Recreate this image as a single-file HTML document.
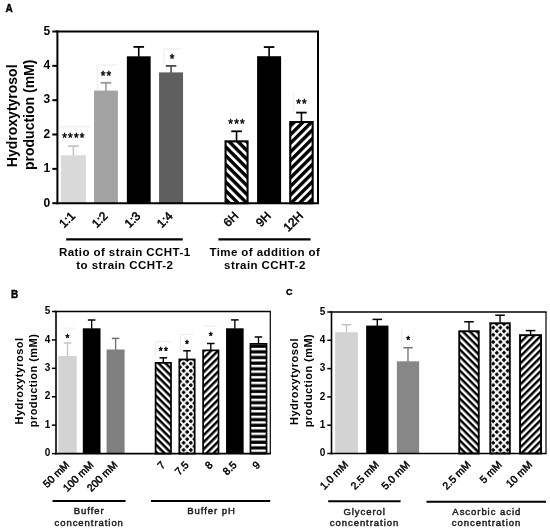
<!DOCTYPE html>
<html><head><meta charset="utf-8"><title>Hydroxytyrosol production</title>
<style>html,body{margin:0;padding:0;background:#fff;overflow:hidden;}svg{display:block;}text{font-family:"Liberation Sans", Arial, Helvetica, sans-serif;}</style>
</head><body>
<svg width="550" height="529" viewBox="0 0 550 529">
<rect width="550" height="529" fill="#fff"/>
<defs>
 <pattern id="hatchA1" patternUnits="userSpaceOnUse" width="6.2" height="6.2" patternTransform="rotate(45) translate(0 -1.63)">
  <rect width="6.2" height="6.2" fill="#fff"/><rect width="6.2" height="3.4" fill="#000"/></pattern>
 <pattern id="hatchA2" patternUnits="userSpaceOnUse" width="6.1" height="6.1" patternTransform="rotate(-45)">
  <rect width="6.1" height="6.1" fill="#fff"/><rect width="6.1" height="3.35" fill="#000"/></pattern>
 <pattern id="hatchB1" patternUnits="userSpaceOnUse" width="4.95" height="4.95" patternTransform="rotate(45)">
  <rect width="4.95" height="4.95" fill="#fff"/><rect width="4.95" height="2.5" fill="#000"/></pattern>
 <pattern id="hatchB2" patternUnits="userSpaceOnUse" width="4.95" height="4.95" patternTransform="rotate(-45)">
  <rect width="4.95" height="4.95" fill="#fff"/><rect width="4.95" height="2.5" fill="#000"/></pattern>
 <pattern id="hatchC1" patternUnits="userSpaceOnUse" width="4.95" height="4.95" patternTransform="rotate(45)">
  <rect width="4.95" height="4.95" fill="#fff"/><rect width="4.95" height="2.45" fill="#000"/></pattern>
 <pattern id="hatchC2" patternUnits="userSpaceOnUse" width="4.95" height="4.95" patternTransform="rotate(-45)">
  <rect width="4.95" height="4.95" fill="#fff"/><rect width="4.95" height="2.45" fill="#000"/></pattern>
 <pattern id="cross" patternUnits="userSpaceOnUse" width="7.2" height="7.2">
  <rect width="7.2" height="7.2" fill="#fff"/>
  <path d="M0 -2.2L2.2 0L0 2.2L-2.2 0ZM7.2 -2.2L9.4 0L7.2 2.2L5.0 0ZM0 5.0L2.2 7.2L0 9.4L-2.2 7.2ZM7.2 5.0L9.4 7.2L7.2 9.4L5.0 7.2ZM3.6 1.4L5.800000000000001 3.6L3.6 5.800000000000001L1.4 3.6Z"/>
 </pattern>
 <pattern id="hstripe" patternUnits="userSpaceOnUse" y="345.1" width="10" height="5.65">
  <rect width="10" height="5.65" fill="#000"/><rect y="2.7" width="10" height="2.45" fill="#fff"/></pattern>
</defs>
<g>
<line x1="60.2" y1="126.8" x2="89.8" y2="126.8" stroke="#ebebeb" stroke-width="1"/>
<line x1="73.4" y1="146.1" x2="73.4" y2="155.8" stroke="#c4c4c4" stroke-width="1.6"/>
<line x1="68.1" y1="146.1" x2="78.7" y2="146.1" stroke="#c4c4c4" stroke-width="1.8"/>
<rect x="60.9" y="155.3" width="25" height="47.9" fill="#d9d9d9"/>
<text x="74" y="141.52" font-size="12" text-anchor="middle" letter-spacing="1.2" stroke="#000" stroke-width="0.45">****</text>
<text x="75.9" y="216.7" font-size="12" text-anchor="end" transform="rotate(-45 75.9 216.7)" stroke="#000" stroke-width="0.5">1:1</text>
<line x1="97.3" y1="65" x2="117.1" y2="65" stroke="#ebebeb" stroke-width="1"/>
<line x1="97.3" y1="65" x2="97.3" y2="90" stroke="#ebebeb" stroke-width="1"/>
<line x1="105.95" y1="82.8" x2="105.95" y2="91.1" stroke="#999" stroke-width="1.6"/>
<line x1="100.65" y1="82.8" x2="111.25" y2="82.8" stroke="#999" stroke-width="1.8"/>
<rect x="94.05" y="90.6" width="23.8" height="112.6" fill="#a2a2a2"/>
<text x="106.55" y="79.62" font-size="12" text-anchor="middle" letter-spacing="1.2" stroke="#000" stroke-width="0.45">**</text>
<text x="108.45" y="216.7" font-size="12" text-anchor="end" transform="rotate(-45 108.45 216.7)" stroke="#000" stroke-width="0.5">1:2</text>
<line x1="138.75" y1="46.9" x2="138.75" y2="56.8" stroke="#000" stroke-width="1.6"/>
<line x1="133.45" y1="46.9" x2="144.05" y2="46.9" stroke="#000" stroke-width="1.8"/>
<rect x="126.85" y="56.3" width="23.8" height="146.9" fill="#000"/>
<text x="141.25" y="216.7" font-size="12" text-anchor="end" transform="rotate(-45 141.25 216.7)" stroke="#000" stroke-width="0.5">1:3</text>
<line x1="164" y1="49" x2="180.1" y2="49" stroke="#ebebeb" stroke-width="1"/>
<line x1="164" y1="49" x2="164" y2="64.5" stroke="#ebebeb" stroke-width="1"/>
<line x1="171.05" y1="65.9" x2="171.05" y2="72.9" stroke="#4c4c4c" stroke-width="1.6"/>
<line x1="165.75" y1="65.9" x2="176.35" y2="65.9" stroke="#4c4c4c" stroke-width="1.8"/>
<rect x="159.05" y="72.4" width="24" height="130.8" fill="#5f5f5f"/>
<text x="172.6" y="63.32" font-size="12" text-anchor="middle" letter-spacing="1.2" stroke="#000" stroke-width="0.45">*</text>
<text x="173.55" y="216.7" font-size="12" text-anchor="end" transform="rotate(-45 173.55 216.7)" stroke="#000" stroke-width="0.5">1:4</text>
<line x1="236.55" y1="131.3" x2="236.55" y2="140.8" stroke="#000" stroke-width="1.6"/>
<line x1="231.25" y1="131.3" x2="241.85" y2="131.3" stroke="#000" stroke-width="1.8"/>
<rect x="225.55" y="141.35" width="22" height="61.85" fill="url(#hatchA1)" stroke="#000" stroke-width="2.1"/>
<text x="237.15" y="128.02" font-size="12" text-anchor="middle" letter-spacing="1.2" stroke="#000" stroke-width="0.45">***</text>
<text x="239.05" y="216.7" font-size="12" text-anchor="end" transform="rotate(-45 239.05 216.7)" stroke="#000" stroke-width="0.5">6H</text>
<line x1="269.1" y1="47.05" x2="269.1" y2="56.7" stroke="#000" stroke-width="1.6"/>
<line x1="263.8" y1="47.05" x2="274.4" y2="47.05" stroke="#000" stroke-width="1.8"/>
<rect x="257.1" y="56.2" width="24" height="147" fill="#000"/>
<text x="271.6" y="216.7" font-size="12" text-anchor="end" transform="rotate(-45 271.6 216.7)" stroke="#000" stroke-width="0.5">9H</text>
<line x1="293.8" y1="93.5" x2="293.8" y2="112" stroke="#ebebeb" stroke-width="1"/>
<line x1="301.45" y1="112.6" x2="301.45" y2="121.5" stroke="#000" stroke-width="1.6"/>
<line x1="296.15" y1="112.6" x2="306.75" y2="112.6" stroke="#000" stroke-width="1.8"/>
<rect x="290.25" y="122.05" width="22.4" height="81.15" fill="url(#hatchA2)" stroke="#000" stroke-width="2.1"/>
<text x="302.05" y="107.52" font-size="12" text-anchor="middle" letter-spacing="1.2" stroke="#000" stroke-width="0.45">**</text>
<text x="303.95" y="216.7" font-size="12" text-anchor="end" transform="rotate(-45 303.95 216.7)" stroke="#000" stroke-width="0.5">12H</text>
<line x1="57.4" y1="30.5" x2="57.4" y2="204.2" stroke="#000" stroke-width="2"/>
<line x1="56.4" y1="31.5" x2="319" y2="31.5" stroke="#000" stroke-width="2"/>
<line x1="318" y1="31.5" x2="318" y2="203.2" stroke="#000" stroke-width="2"/>
<line x1="56.4" y1="203.2" x2="319" y2="203.2" stroke="#000" stroke-width="2"/>
<line x1="52.3" y1="203.2" x2="57.4" y2="203.2" stroke="#000" stroke-width="2"/>
<text x="50.3" y="206.5" font-size="12" font-weight="bold" text-anchor="end">0</text>
<line x1="52.3" y1="168.86" x2="57.4" y2="168.86" stroke="#000" stroke-width="2"/>
<text x="50.3" y="172.16" font-size="12" font-weight="bold" text-anchor="end">1</text>
<line x1="52.3" y1="134.52" x2="57.4" y2="134.52" stroke="#000" stroke-width="2"/>
<text x="50.3" y="137.82" font-size="12" font-weight="bold" text-anchor="end">2</text>
<line x1="52.3" y1="100.18" x2="57.4" y2="100.18" stroke="#000" stroke-width="2"/>
<text x="50.3" y="103.48" font-size="12" font-weight="bold" text-anchor="end">3</text>
<line x1="52.3" y1="65.84" x2="57.4" y2="65.84" stroke="#000" stroke-width="2"/>
<text x="50.3" y="69.14" font-size="12" font-weight="bold" text-anchor="end">4</text>
<line x1="52.3" y1="31.5" x2="57.4" y2="31.5" stroke="#000" stroke-width="2"/>
<text x="50.3" y="34.8" font-size="12" font-weight="bold" text-anchor="end">5</text>
<text x="17" y="115.8" font-size="14" font-weight="bold" text-anchor="middle" transform="rotate(-90 17 115.8)">Hydroxytyrosol</text>
<text x="34" y="114.8" font-size="14" font-weight="bold" text-anchor="middle" transform="rotate(-90 34 114.8)">production (mM)</text>
<line x1="66.2" y1="239.4" x2="182.8" y2="239.4" stroke="#000" stroke-width="2.2"/>
<text x="124.72" y="255.9" font-size="11.5" font-weight="bold" text-anchor="middle" letter-spacing="0.43">Ratio of strain CCHT-1</text>
<text x="124.81" y="269.3" font-size="11.5" font-weight="bold" text-anchor="middle" letter-spacing="0.43">to strain CCHT-2</text>
<line x1="218.4" y1="239.4" x2="310.6" y2="239.4" stroke="#000" stroke-width="2.2"/>
<text x="264.81" y="255.9" font-size="11.5" font-weight="bold" text-anchor="middle" letter-spacing="0.43">Time of addition of</text>
<text x="264.91" y="269.3" font-size="11.5" font-weight="bold" text-anchor="middle" letter-spacing="0.43">strain CCHT-2</text>
<text x="5.5" y="12.2" font-size="10" font-weight="bold" stroke="#000" stroke-width="0.4">A</text>
</g>
<g>
<line x1="62.4" y1="328.1" x2="74.9" y2="328.1" stroke="#ebebeb" stroke-width="1"/>
<line x1="67.5" y1="343" x2="67.5" y2="356.5" stroke="#c4c4c4" stroke-width="1.35"/>
<line x1="63.7" y1="343" x2="71.3" y2="343" stroke="#c4c4c4" stroke-width="1.5"/>
<rect x="58.3" y="356" width="18.4" height="97.6" fill="#d3d3d3"/>
<text x="68.1" y="341.6" font-size="10" text-anchor="middle" letter-spacing="1.2" stroke="#000" stroke-width="0.45">*</text>
<text x="70" y="465.5" font-size="10.5" text-anchor="end" transform="rotate(-45 70 465.5)" stroke="#000" stroke-width="0.45">50 mM</text>
<line x1="91.65" y1="320" x2="91.65" y2="328.8" stroke="#000" stroke-width="1.35"/>
<line x1="87.85" y1="320" x2="95.45" y2="320" stroke="#000" stroke-width="1.5"/>
<rect x="82.8" y="328.3" width="17.7" height="125.3" fill="#000"/>
<text x="94.15" y="465.5" font-size="10.5" text-anchor="end" transform="rotate(-45 94.15 465.5)" stroke="#000" stroke-width="0.45">100 mM</text>
<line x1="115.6" y1="338.4" x2="115.6" y2="350" stroke="#707070" stroke-width="1.35"/>
<line x1="111.8" y1="338.4" x2="119.4" y2="338.4" stroke="#707070" stroke-width="1.5"/>
<rect x="106.6" y="349.5" width="18" height="104.1" fill="#808080"/>
<text x="118.1" y="465.5" font-size="10.5" text-anchor="end" transform="rotate(-45 118.1 465.5)" stroke="#000" stroke-width="0.45">200 mM</text>
<line x1="155.3" y1="341.6" x2="171" y2="341.6" stroke="#ebebeb" stroke-width="1"/>
<line x1="155.3" y1="341.6" x2="155.3" y2="357" stroke="#ebebeb" stroke-width="1"/>
<line x1="163.3" y1="357.8" x2="163.3" y2="362.5" stroke="#000" stroke-width="1.35"/>
<line x1="159.5" y1="357.8" x2="167.1" y2="357.8" stroke="#000" stroke-width="1.5"/>
<rect x="155.6" y="362.85" width="15.4" height="90.75" fill="url(#hatchB1)" stroke="#000" stroke-width="1.7"/>
<text x="163.9" y="355" font-size="10" text-anchor="middle" letter-spacing="1.2" stroke="#000" stroke-width="0.45">**</text>
<text x="165.8" y="465.5" font-size="10.5" text-anchor="end" transform="rotate(-45 165.8 465.5)" stroke="#000" stroke-width="0.45">7</text>
<line x1="180.5" y1="334.4" x2="193.3" y2="334.4" stroke="#ebebeb" stroke-width="1"/>
<line x1="180.5" y1="334.4" x2="180.5" y2="350" stroke="#ebebeb" stroke-width="1"/>
<line x1="187" y1="350.8" x2="187" y2="359.1" stroke="#000" stroke-width="1.35"/>
<line x1="183.2" y1="350.8" x2="190.8" y2="350.8" stroke="#000" stroke-width="1.5"/>
<rect x="179.3" y="359.45" width="15.4" height="94.15" fill="url(#cross)" stroke="#000" stroke-width="1.7"/>
<text x="187.6" y="348" font-size="10" text-anchor="middle" letter-spacing="1.2" stroke="#000" stroke-width="0.45">*</text>
<text x="189.5" y="465.5" font-size="10.5" text-anchor="end" transform="rotate(-45 189.5 465.5)" stroke="#000" stroke-width="0.45">7.5</text>
<line x1="204" y1="326.1" x2="216.8" y2="326.1" stroke="#ebebeb" stroke-width="1"/>
<line x1="210.8" y1="343.5" x2="210.8" y2="350" stroke="#000" stroke-width="1.35"/>
<line x1="207" y1="343.5" x2="214.6" y2="343.5" stroke="#000" stroke-width="1.5"/>
<rect x="203.1" y="350.35" width="15.4" height="103.25" fill="url(#hatchB2)" stroke="#000" stroke-width="1.7"/>
<text x="211.4" y="340" font-size="10" text-anchor="middle" letter-spacing="1.2" stroke="#000" stroke-width="0.45">*</text>
<text x="213.3" y="465.5" font-size="10.5" text-anchor="end" transform="rotate(-45 213.3 465.5)" stroke="#000" stroke-width="0.45">8</text>
<line x1="234.85" y1="319.9" x2="234.85" y2="328.8" stroke="#000" stroke-width="1.35"/>
<line x1="231.05" y1="319.9" x2="238.65" y2="319.9" stroke="#000" stroke-width="1.5"/>
<rect x="226.05" y="328.3" width="17.6" height="125.3" fill="#000"/>
<text x="237.35" y="465.5" font-size="10.5" text-anchor="end" transform="rotate(-45 237.35 465.5)" stroke="#000" stroke-width="0.45">8.5</text>
<line x1="258.5" y1="337" x2="258.5" y2="343.5" stroke="#000" stroke-width="1.35"/>
<line x1="254.7" y1="337" x2="262.3" y2="337" stroke="#000" stroke-width="1.5"/>
<rect x="250.45" y="343.85" width="16.1" height="109.75" fill="url(#hstripe)" stroke="#000" stroke-width="1.7"/>
<text x="261" y="465.5" font-size="10.5" text-anchor="end" transform="rotate(-45 261 465.5)" stroke="#000" stroke-width="0.45">9</text>
<line x1="56" y1="310.8" x2="56" y2="454.4" stroke="#000" stroke-width="1.6"/>
<line x1="55.2" y1="311.5" x2="270.9" y2="311.5" stroke="#000" stroke-width="1.4"/>
<line x1="270.3" y1="311.5" x2="270.3" y2="453.6" stroke="#000" stroke-width="1.2"/>
<line x1="55.2" y1="453.6" x2="270.9" y2="453.6" stroke="#000" stroke-width="1.6"/>
<line x1="51.9" y1="453.6" x2="56" y2="453.6" stroke="#000" stroke-width="1.5"/>
<text x="50.2" y="456.2" font-size="10" font-weight="bold" text-anchor="end">0</text>
<line x1="51.9" y1="425.18" x2="56" y2="425.18" stroke="#000" stroke-width="1.5"/>
<text x="50.2" y="427.78" font-size="10" font-weight="bold" text-anchor="end">1</text>
<line x1="51.9" y1="396.76" x2="56" y2="396.76" stroke="#000" stroke-width="1.5"/>
<text x="50.2" y="399.36" font-size="10" font-weight="bold" text-anchor="end">2</text>
<line x1="51.9" y1="368.34" x2="56" y2="368.34" stroke="#000" stroke-width="1.5"/>
<text x="50.2" y="370.94" font-size="10" font-weight="bold" text-anchor="end">3</text>
<line x1="51.9" y1="339.92" x2="56" y2="339.92" stroke="#000" stroke-width="1.5"/>
<text x="50.2" y="342.52" font-size="10" font-weight="bold" text-anchor="end">4</text>
<line x1="51.9" y1="311.5" x2="56" y2="311.5" stroke="#000" stroke-width="1.5"/>
<text x="50.2" y="314.1" font-size="10" font-weight="bold" text-anchor="end">5</text>
<text x="22.7" y="381" font-size="11" font-weight="bold" text-anchor="middle" letter-spacing="0.45" transform="rotate(-90 22.7 381)">Hydroxytyrosol</text>
<text x="36.9" y="380.5" font-size="11" font-weight="bold" text-anchor="middle" letter-spacing="0.45" transform="rotate(-90 36.9 380.5)">production (mM)</text>
<line x1="52.5" y1="501" x2="125.6" y2="501" stroke="#000" stroke-width="2"/>
<text x="89.17" y="514.1" font-size="9.5" text-anchor="middle" fill="#1a1a1a" letter-spacing="0.95" stroke="#1a1a1a" stroke-width="0.45">Buffer</text>
<text x="89.17" y="525.5" font-size="9.5" text-anchor="middle" fill="#1a1a1a" letter-spacing="0.95" stroke="#1a1a1a" stroke-width="0.45">concentration</text>
<line x1="151" y1="501" x2="270.2" y2="501" stroke="#000" stroke-width="2"/>
<text x="211.57" y="514.2" font-size="9.5" text-anchor="middle" fill="#1a1a1a" letter-spacing="0.95" stroke="#1a1a1a" stroke-width="0.45">Buffer pH</text>
<text x="11" y="297.8" font-size="10" font-weight="bold" stroke="#000" stroke-width="0.4">B</text>
</g>
<g>
<line x1="346.5" y1="324.7" x2="346.5" y2="332.7" stroke="#c4c4c4" stroke-width="1.4"/>
<line x1="341.7" y1="324.7" x2="351.3" y2="324.7" stroke="#c4c4c4" stroke-width="1.5"/>
<rect x="335.1" y="332.2" width="22.8" height="121.3" fill="#d3d3d3"/>
<text x="349" y="465.4" font-size="10.5" text-anchor="end" transform="rotate(-45 349 465.4)" stroke="#000" stroke-width="0.45">1.0 mM</text>
<line x1="377.3" y1="319.4" x2="377.3" y2="326.1" stroke="#000" stroke-width="1.4"/>
<line x1="372.5" y1="319.4" x2="382.1" y2="319.4" stroke="#000" stroke-width="1.5"/>
<rect x="366.15" y="325.6" width="22.3" height="127.9" fill="#000"/>
<text x="379.8" y="465.4" font-size="10.5" text-anchor="end" transform="rotate(-45 379.8 465.4)" stroke="#000" stroke-width="0.45">2.5 mM</text>
<line x1="401.7" y1="329.9" x2="401.7" y2="351" stroke="#ebebeb" stroke-width="1"/>
<line x1="408" y1="347.7" x2="408" y2="361.8" stroke="#777" stroke-width="1.4"/>
<line x1="403.2" y1="347.7" x2="412.8" y2="347.7" stroke="#777" stroke-width="1.5"/>
<rect x="396.85" y="361.3" width="22.3" height="92.2" fill="#878787"/>
<text x="408.8" y="343.7" font-size="10" text-anchor="middle" letter-spacing="1.2" stroke="#000" stroke-width="0.45">*</text>
<text x="410.5" y="465.4" font-size="10.5" text-anchor="end" transform="rotate(-45 410.5 465.4)" stroke="#000" stroke-width="0.45">5.0 mM</text>
<line x1="469" y1="321.8" x2="469" y2="330.8" stroke="#000" stroke-width="1.4"/>
<line x1="464.2" y1="321.8" x2="473.8" y2="321.8" stroke="#000" stroke-width="1.5"/>
<rect x="459.25" y="331.25" width="19.5" height="122.25" fill="url(#hatchC1)" stroke="#000" stroke-width="1.9"/>
<text x="471.5" y="465.4" font-size="10.5" text-anchor="end" transform="rotate(-45 471.5 465.4)" stroke="#000" stroke-width="0.45">2.5 mM</text>
<line x1="500.05" y1="315.2" x2="500.05" y2="322.8" stroke="#000" stroke-width="1.4"/>
<line x1="495.25" y1="315.2" x2="504.85" y2="315.2" stroke="#000" stroke-width="1.5"/>
<rect x="490.3" y="323.25" width="19.5" height="130.25" fill="url(#cross)" stroke="#000" stroke-width="1.9"/>
<text x="502.55" y="465.4" font-size="10.5" text-anchor="end" transform="rotate(-45 502.55 465.4)" stroke="#000" stroke-width="0.45">5 mM</text>
<line x1="530.55" y1="330.6" x2="530.55" y2="334.7" stroke="#000" stroke-width="1.4"/>
<line x1="525.75" y1="330.6" x2="535.35" y2="330.6" stroke="#000" stroke-width="1.5"/>
<rect x="520.05" y="335.15" width="21" height="118.35" fill="url(#hatchC2)" stroke="#000" stroke-width="1.9"/>
<text x="533.05" y="465.4" font-size="10.5" text-anchor="end" transform="rotate(-45 533.05 465.4)" stroke="#000" stroke-width="0.45">10 mM</text>
<line x1="331.5" y1="311.3" x2="331.5" y2="454.3" stroke="#000" stroke-width="1.6"/>
<line x1="330.7" y1="312" x2="546.6" y2="312" stroke="#000" stroke-width="1.4"/>
<line x1="546" y1="312" x2="546" y2="453.5" stroke="#000" stroke-width="1.2"/>
<line x1="330.7" y1="453.5" x2="546.6" y2="453.5" stroke="#000" stroke-width="1.6"/>
<line x1="327.3" y1="453.5" x2="331.5" y2="453.5" stroke="#000" stroke-width="1.5"/>
<text x="325.3" y="456.1" font-size="10" font-weight="bold" text-anchor="end">0</text>
<line x1="327.3" y1="425.2" x2="331.5" y2="425.2" stroke="#000" stroke-width="1.5"/>
<text x="325.3" y="427.8" font-size="10" font-weight="bold" text-anchor="end">1</text>
<line x1="327.3" y1="396.9" x2="331.5" y2="396.9" stroke="#000" stroke-width="1.5"/>
<text x="325.3" y="399.5" font-size="10" font-weight="bold" text-anchor="end">2</text>
<line x1="327.3" y1="368.6" x2="331.5" y2="368.6" stroke="#000" stroke-width="1.5"/>
<text x="325.3" y="371.2" font-size="10" font-weight="bold" text-anchor="end">3</text>
<line x1="327.3" y1="340.3" x2="331.5" y2="340.3" stroke="#000" stroke-width="1.5"/>
<text x="325.3" y="342.9" font-size="10" font-weight="bold" text-anchor="end">4</text>
<line x1="327.3" y1="312" x2="331.5" y2="312" stroke="#000" stroke-width="1.5"/>
<text x="325.3" y="314.6" font-size="10" font-weight="bold" text-anchor="end">5</text>
<text x="297.6" y="381.5" font-size="11" font-weight="bold" text-anchor="middle" letter-spacing="0.45" transform="rotate(-90 297.6 381.5)">Hydroxytyrosol</text>
<text x="312.4" y="380.6" font-size="11" font-weight="bold" text-anchor="middle" letter-spacing="0.45" transform="rotate(-90 312.4 380.6)">production (mM)</text>
<line x1="328.2" y1="501.3" x2="400.6" y2="501.3" stroke="#000" stroke-width="2"/>
<text x="364.68" y="514.8" font-size="9.5" text-anchor="middle" fill="#1a1a1a" letter-spacing="0.95" stroke="#1a1a1a" stroke-width="0.45">Glycerol</text>
<text x="364.48" y="526.3" font-size="9.5" text-anchor="middle" fill="#1a1a1a" letter-spacing="0.95" stroke="#1a1a1a" stroke-width="0.45">concentration</text>
<line x1="426.5" y1="501.7" x2="546" y2="501.7" stroke="#000" stroke-width="2"/>
<text x="486.78" y="515.3" font-size="9.5" text-anchor="middle" fill="#1a1a1a" letter-spacing="0.95" stroke="#1a1a1a" stroke-width="0.45">Ascorbic acid</text>
<text x="486.48" y="526.3" font-size="9.5" text-anchor="middle" fill="#1a1a1a" letter-spacing="0.95" stroke="#1a1a1a" stroke-width="0.45">concentration</text>
<text x="285.9" y="295.1" font-size="9" font-weight="bold" stroke="#000" stroke-width="0.4">C</text>
</g>
</svg>
</body></html>
